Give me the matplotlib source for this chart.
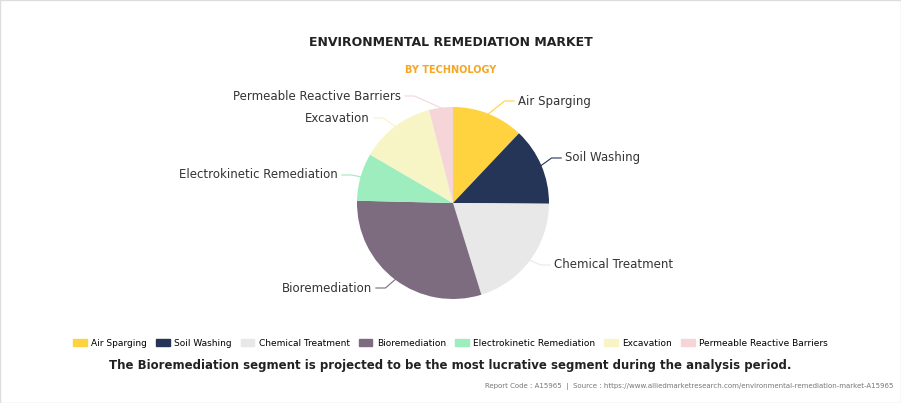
import numpy as np
import matplotlib.pyplot as plt
from matplotlib.patches import Rectangle

categories = ['Air Sparging', 'Soil Washing', 'Chemical Treatment', 'Bioremediation',
              'Electrokinetic Remediation', 'Excavation', 'Permeable Reactive Barriers']
shares = [12, 13, 20, 30, 8, 12.5, 4]
colors = ['#FFD23F', '#243558', '#E8E8E8', '#7D6B80', '#9EEDBE', '#F7F5C5', '#F5D5D8']
# label text anchor in pixels (x, y from top) and alignment
label_px = [(518, 101, 'left'), (565, 158, 'left'), (554, 265, 'left'), (372, 288, 'right'),
            (338, 175, 'right'), (370, 118, 'right'), (401, 96, 'right')]

W, H = 901, 403
cx, cy, R = 453, 203, 96

fig = plt.figure(figsize=(W / 100, H / 100), dpi=100)
fig.patches.append(Rectangle((0, 0), 1, 1, transform=fig.transFigure, fill=False,
                             edgecolor='#DDDDDD', lw=1))
ax = fig.add_axes([0, 0, 1, 1])
wedges, _ = ax.pie(shares, colors=colors, startangle=90, counterclock=False, radius=1)
ax.set_aspect('auto')
ax.set_xlim(-cx / R, (W - cx) / R)
ax.set_ylim(-(H - cy) / R, cy / R)
ax.axis('off')

def px(x, y):
    return ((x - cx) / R, (cy - y) / R)

for w, name, (lx, ly, ha) in zip(wedges, categories, label_px):
    ang = np.deg2rad((w.theta1 + w.theta2) / 2)
    p = (np.cos(ang), np.sin(ang))
    tx, ty = px(lx, ly)
    ex = tx - 0.04 if ha == 'left' else tx + 0.04
    bend = ex - 0.1 if ha == 'left' else ex + 0.1
    ax.plot([p[0], bend, ex], [p[1], ty, ty], color=w.get_facecolor(), lw=0.8)
    ax.text(tx, ty, name, ha=ha, va='center', fontsize=8.5, color='#333333')

fig.text(0.5, 1 - 43 / H, 'ENVIRONMENTAL REMEDIATION MARKET', ha='center', va='center',
         fontsize=9, fontweight='bold', color='#222222')
fig.text(0.5, 1 - 70 / H, 'BY TECHNOLOGY', ha='center', va='center',
         fontsize=7, fontweight='bold', color='#F5A623')

handles = [Rectangle((0, 0), 1, 1, color=c) for c in colors]
fig.legend(handles, categories, loc='center', bbox_to_anchor=(0.5, 1 - 343 / H), ncol=7,
           frameon=False, fontsize=6.5, handlelength=1.5, handleheight=0.9,
           columnspacing=1.0, handletextpad=0.5)
fig.text(0.5, 1 - 365 / H,
         'The Bioremediation segment is projected to be the most lucrative segment during the analysis period.',
         ha='center', va='center', fontsize=8.5, fontweight='bold', color='#222222')
fig.text(1 - 8 / W, 1 - 386 / H,
         'Report Code : A15965  |  Source : https://www.alliedmarketresearch.com/environmental-remediation-market-A15965',
         ha='right', va='center', fontsize=5, color='#777777')

fig.savefig('out.png', dpi=100)
